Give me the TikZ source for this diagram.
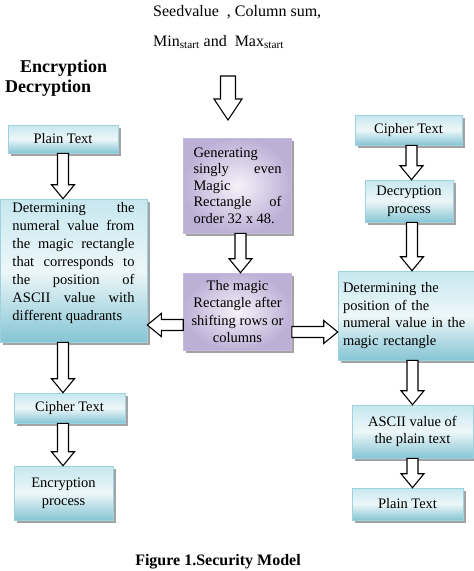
\documentclass[tikz,border=0pt]{standalone}
\usepackage{fontspec}
\setmainfont{Liberation Serif}
\usetikzlibrary{calc, shadows, positioning}

\definecolor{cyanlight}{HTML}{C6E7EF}
\definecolor{cyanmid}{HTML}{EDF7F9}
\definecolor{cyandark}{HTML}{86C5D4}
\definecolor{cyanline}{HTML}{9ED2DE}
\definecolor{lilaclight}{HTML}{F5F2F9}
\definecolor{lilacdark}{HTML}{BDB0D6}
\definecolor{lilacline}{HTML}{C6BADB}

\newcommand{\bxfont}{\fontsize{14.5}{17.5}\selectfont}

\tikzset{%
   % gradient boxes of the flow chart
   cyanbox/.style={
      rectangle,
      draw=cyanline,
      line width=.6pt,
      top color=cyanlight,
      bottom color=cyandark,
      middle color=cyanmid,
      drop shadow={shadow xshift=2.5pt, shadow yshift=-2.5pt, fill=black!45, opacity=.8},
      inner sep=0pt,
      font=\bxfont,
      align=center
   },
   lilacbox/.style={
      rectangle,
      draw=lilacline,
      line width=.6pt,
      inner color=lilaclight,
      outer color=lilacdark,
      drop shadow={shadow xshift=2.5pt, shadow yshift=-2.5pt, fill=black!45, opacity=.8},
      inner sep=0pt,
      font=\bxfont,
      align=center
   },
   blk shaft/.initial=5.5pt,
   blk head/.initial=11.5pt,
   blk len/.initial=14pt,
   % hollow block arrow from start to target
   hollow/.style={
      draw=black,
      fill=white,
      line width=1.1pt,
      line join=miter,
      to path={
         let \p1=(\tikztostart), \p2=(\tikztotarget),
             \p3=($(\p2)!\pgfkeysvalueof{/tikz/blk len}!(\p1)$) in
         ($(\p1)!\pgfkeysvalueof{/tikz/blk shaft}!90:(\p2)$)
         -- ($(\p3)!\pgfkeysvalueof{/tikz/blk shaft}!90:(\p2)$)
         -- ($(\p3)!\pgfkeysvalueof{/tikz/blk head}!90:(\p2)$)
         -- (\p2)
         -- ($(\p3)!\pgfkeysvalueof{/tikz/blk head}!-90:(\p2)$)
         -- ($(\p3)!\pgfkeysvalueof{/tikz/blk shaft}!-90:(\p2)$)
         -- ($(\p1)!\pgfkeysvalueof{/tikz/blk shaft}!-90:(\p2)$)
         -- cycle
      }
   },
   bigblk/.style={blk shaft=7.5pt, blk head=14pt, blk len=21pt}
}

\begin{document}
\begin{tikzpicture}[x=1pt, y=-1pt]
    \useasboundingbox (0,0) rectangle (474,571);

    \node[anchor=west, align=left, inner sep=0pt, font=\fontsize{16}{30}\selectfont] (seed) at (153,27)
        {Seedvalue\ \ , Column sum,\\Min\textsubscript{start} and\ \ Max\textsubscript{start}};
    \node[anchor=west, inner sep=0pt, font=\fontsize{18}{20}\selectfont\bfseries] (enc) at (20,68) {Encryption};
    \node[anchor=west, inner sep=0pt, font=\fontsize{18}{20}\selectfont\bfseries] (dec) at (5,88) {Decryption};

    % encryption side
    \node[cyanbox, minimum width=110pt, minimum height=28pt] (ptL) at (63,139) {Plain Text};
    \node[cyanbox, minimum width=147pt, minimum height=143pt, text width=122pt, align=justify,
          font=\fontsize{14.5}{18}\selectfont, inner ysep=2pt, text depth=126pt] (detL) at (73.5,270.5)
        {Determining the\linebreak numeral value from\linebreak the magic rectangle\linebreak
         that corresponds to\linebreak the position of\linebreak ASCII value with\linebreak
         different quadrants};
    \node[cyanbox, minimum width=111pt, minimum height=30pt] (ctL) at (69.5,408) {Cipher Text};
    \node[cyanbox, minimum width=99pt, minimum height=54pt] (encL) at (63.5,493) {Encryption\\process};

    % magic rectangle
    \node[lilacbox, minimum width=108pt, minimum height=95pt, text width=88pt, align=justify,
          font=\fontsize{14.5}{16.5}\selectfont] (gen) at (237.5,185.5)
        {Generating\linebreak singly even\linebreak Magic\linebreak Rectangle of\linebreak order 32 x 48.};
    \node[lilacbox, minimum width=108pt, minimum height=77pt] (mag) at (237.5,311.5)
        {The magic\\Rectangle after\\shifting rows or\\columns};

    % decryption side
    \node[cyanbox, minimum width=107pt, minimum height=30pt] (ctR) at (408.5,130) {Cipher Text};
    \node[cyanbox, minimum width=88pt, minimum height=42pt] (decR) at (409,201) {Decryption\\process};
    \node[cyanbox, minimum width=136pt, minimum height=89pt, text width=126pt, align=left] (detR) at (406,315.5)
        {Determining the\\position of the\\numeral value in the\\magic rectangle};
    \node[cyanbox, minimum width=121pt, minimum height=53pt] (asciiR) at (412.5,431.5) {ASCII value of\\the plain text};
    \node[cyanbox, minimum width=111pt, minimum height=32pt] (ptR) at (407.5,504) {Plain Text};

    \node[font=\fontsize{16}{18}\selectfont\bfseries] (cap) at (218,562) {Figure 1.Security Model};

    \coordinate (inA) at (228,76);
    \coordinate (inB) at (228,120);
    \draw[hollow, bigblk] (inA) to (inB);

    \draw[hollow] (ptL.south) to (detL.north -| ptL.south);
    \draw[hollow] (detL.south -| ptL.south) to (ctL.north -| ptL.south);
    \draw[hollow] (ctL.south -| ptL.south) to (encL.north -| ptL.south);

    \draw[hollow] ([xshift=3pt]gen.south) to ([xshift=3pt]mag.north);
    \draw[hollow] ([yshift=-13.5pt]mag.west) to ([yshift=-13.5pt]mag.west -| detL.east);
    \draw[hollow] ([yshift=-20.5pt]mag.east) to ([yshift=-20.5pt]mag.east -| detR.west);

    \draw[hollow] ([xshift=3pt]ctR.south) to ([xshift=3pt]ctR.south |- decR.north);
    \draw[hollow] ([xshift=3pt]decR.south) to ([xshift=3pt]decR.south |- detR.north);
    \draw[hollow] (detR.south -| asciiR.north) to (asciiR.north);
    \draw[hollow] (asciiR.south) to (ptR.north -| asciiR.south);
\end{tikzpicture}
\end{document}
